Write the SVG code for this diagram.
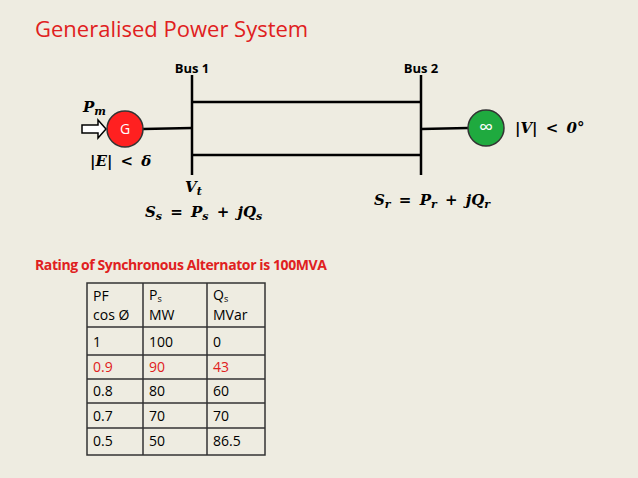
<svg xmlns="http://www.w3.org/2000/svg" width="638" height="478" viewBox="0 0 638 478">
<style>
.t{font-family:"Open Sans","Liberation Sans",sans-serif;}
.m{font-family:"DejaVu Serif",serif;font-weight:bold;font-style:italic;font-size:15px;word-spacing:3px}
.ln{stroke:#000;stroke-width:2.5;fill:none}
.c{font-family:"Open Sans","Liberation Sans",sans-serif;font-size:14px;fill:#000}
.r{fill:#e02020}
</style>
<rect width="638" height="478" fill="#eeece1"/>
<text class="t" x="35" y="37" font-size="22" fill="#e02020">Generalised Power System</text>
<g id="connectors">
<line class="ln" x1="192" y1="75" x2="192" y2="175"/>
<line class="ln" x1="421" y1="75" x2="421" y2="175"/>
<line class="ln" x1="192" y1="102" x2="421" y2="102"/>
<line class="ln" x1="192" y1="155" x2="421" y2="155"/>
<line class="ln" x1="143" y1="129" x2="192" y2="128"/>
<line class="ln" x1="421" y1="129" x2="468" y2="128"/>
<path d="M82 125 H98 V120 L106 129 L98 138 V133 H82 Z" fill="#fff" stroke="#000" stroke-width="1.5"/>
</g>
<g id="bus1"><text class="t" x="192" y="73" font-size="13" font-weight="bold" text-anchor="middle">Bus 1</text></g>
<g id="bus2"><text class="t" x="421" y="73" font-size="13" font-weight="bold" text-anchor="middle">Bus 2</text></g>
<g id="gen"><circle cx="125" cy="129" r="18" fill="#ff2020" stroke="#333" stroke-width="1.5"/>
<text class="t" x="125" y="134" font-size="14" fill="#fff" text-anchor="middle">G</text></g>
<g id="inf"><circle cx="486" cy="128" r="18" fill="#1faa3f" stroke="#333" stroke-width="1.5"/>
<text class="t" x="486" y="134" font-size="20" fill="#fff" text-anchor="middle">∞</text></g>
<text class="m" x="83" y="112">P<tspan font-size="11" dy="3">m</tspan></text>
<text class="m" x="90" y="166">|E| &lt; δ</text>
<text class="m" x="185" y="192">V<tspan font-size="11" dy="3">t</tspan></text>
<text class="m" x="145" y="217">S<tspan font-size="11" dy="3">s</tspan><tspan dy="-3"> = P</tspan><tspan font-size="11" dy="3">s</tspan><tspan dy="-3"> + jQ</tspan><tspan font-size="11" dy="3">s</tspan></text>
<text class="m" x="374" y="205">S<tspan font-size="11" dy="3">r</tspan><tspan dy="-3"> = P</tspan><tspan font-size="11" dy="3">r</tspan><tspan dy="-3"> + jQ</tspan><tspan font-size="11" dy="3">r</tspan></text>
<text class="m" x="515" y="133">|V| &lt; 0°</text>
<text class="t" x="35" y="270" font-size="14" font-weight="bold" fill="#e02020" letter-spacing="-0.4">Rating of Synchronous Alternator is 100MVA</text>
<g id="table" stroke="#333" stroke-width="1.5">
<rect x="87" y="283" width="178" height="172" fill="none"/>
<line x1="143" y1="283" x2="143" y2="455"/><line x1="207" y1="283" x2="207" y2="455"/>
<line x1="87" y1="327" x2="265" y2="327"/><line x1="87" y1="355" x2="265" y2="355"/>
<line x1="87" y1="379" x2="265" y2="379"/><line x1="87" y1="403" x2="265" y2="403"/>
<line x1="87" y1="428" x2="265" y2="428"/>
</g>
<g id="cells">
<text class="c" x="93" y="301">PF</text><text class="c" x="93" y="320">cos Ø</text>
<text class="c" x="149" y="300">P<tspan font-size="9" dy="2">s</tspan></text><text class="c" x="149" y="320">MW</text>
<text class="c" x="213" y="300">Q<tspan font-size="9" dy="2">s</tspan></text><text class="c" x="213" y="320">MVar</text>
<text class="c" x="93" y="347">1</text><text class="c" x="149" y="347">100</text><text class="c" x="213" y="347">0</text>
<text class="c r" x="93" y="372">0.9</text><text class="c r" x="149" y="372">90</text><text class="c r" x="213" y="372">43</text>
<text class="c" x="93" y="396">0.8</text><text class="c" x="149" y="396">80</text><text class="c" x="213" y="396">60</text>
<text class="c" x="93" y="421">0.7</text><text class="c" x="149" y="421">70</text><text class="c" x="213" y="421">70</text>
<text class="c" x="93" y="446">0.5</text><text class="c" x="149" y="446">50</text><text class="c" x="213" y="446">86.5</text>
</g>
</svg>
